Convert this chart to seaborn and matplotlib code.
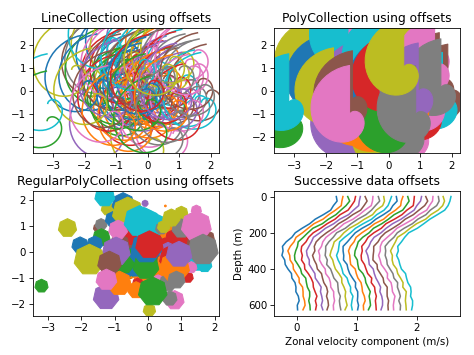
import numpy as np
import pandas as pd
import matplotlib
matplotlib.use('Agg')
import matplotlib.pyplot as plt
from matplotlib.path import Path
import seaborn as sns

# Offsets of the 100 markers (data units), shared by the first three panels
offset_x = [-0.50, 0.52, 0.30, -0.90, 0.60, -1.51, 1.45, -1.41, -1.21, 1.10,
            -1.05, -0.20, -1.40, 0.30, -0.90, 0.50, 0.80, 1.20, 0.85, 0.20,
            -0.30, 0.60, -0.60, -0.31, -0.09, 1.00, -0.76, -0.20, -0.50, 0.20,
            -0.75, 0.40, -0.30, 0.50, 1.20, -0.50, 1.30, 1.40, -0.61, -0.10,
            -0.40, 0.30, -0.80, 0.90, -1.26, 0.00, 0.30, 0.60, 0.04, -0.30,
            0.20, -0.50, 0.70, -1.00, 0.10, 1.87, 1.20, 0.40, 1.00, 1.70,
            -1.60, -0.36, -0.70, -0.61, 0.60, -0.85, -0.90, 1.00, -2.42, 1.50,
            -2.04, 0.50, -3.20, 1.20, 1.10, -0.10, 1.30, 0.65, 0.70, -1.30,
            -0.20, -0.86, -0.06, 0.75, -0.96, 1.60, 1.45, 1.65, -1.76, -0.26,
            -0.05, 0.80, 0.14, 0.04, 0.93, -1.16, -1.25, 0.85, 0.47, -3.18]
offset_y = [0.30, 1.77, 0.60, 0.40, 0.20, 0.92, 1.60, 1.05, 1.66, 0.50,
            1.25, -0.90, 0.55, -0.20, 0.10, 0.50, -1.87, 0.30, 1.05, 0.90,
            -0.30, 0.70, -0.80, -1.22, 1.87, -0.30, 0.86, 0.40, -0.20, 1.10,
            1.85, -0.50, 0.00, 0.00, -0.10, 0.60, 0.90, 0.00, 1.51, 1.10,
            -0.40, -0.90, -0.30, 0.40, -1.74, -0.30, -1.30, -1.20, -2.26, 0.80,
            0.30, -1.00, -0.30, -0.60, -0.60, -0.15, 1.20, 0.90, 1.50, -0.51,
            0.30, -1.48, -0.50, 0.60, 0.00, 0.30, 0.85, 0.90, 0.92, -0.40,
            0.25, -0.40, -1.32, -0.99, -0.50, 0.50, -0.60, -1.80, 1.31, 2.13,
            -0.10, -1.22, -0.57, -0.25, 0.01, 0.35, 0.99, 0.08, -0.31, 1.18,
            0.15, -0.60, -1.54, 0.27, -0.10, -0.44, -1.08, -1.09, 0.97, -0.57]

# Heptagon areas, cycled over the offsets
hept_size = [0, 1.3, 5.1, 11.3, 19.6, 29.9, 41.8, 54.7, 68.4, 82.3,
             95.9, 108.6, 119.9, 129.4, 136.5, 140.7, 141.8, 139.4, 133.4, 123.1,
             109.1, 91.1, 69.3, 44.0, 15.4, 16.0, 49.7, 85.1, 121.5, 158.2,
             194.4, 229.7, 262.4, 292.4, 319.0, 341.2, 358.3, 369.8, 375.1, 373.9,
             365.8, 350.6, 328.4, 299.2, 263.2, 220.8, 172.6, 119.2, 61.4, 0]

# Velocity profile: depth (m) and zonal velocity (m/s) of the first curve
depth = [0, 25, 50, 75, 100, 125, 150, 175, 200, 225, 250, 275, 300,
         325, 350, 375, 400, 425, 450, 475, 500, 525, 550, 575, 600, 625]
velocity = [0.663, 0.666, 0.625, 0.549, 0.447, 0.331, 0.210, 0.093, -0.011,
            -0.098, -0.162, -0.204, -0.224, -0.223, -0.207, -0.178, -0.142,
            -0.104, -0.067, -0.035, -0.009, 0.009, 0.020, 0.024, 0.023, 0.018]
step = 0.1  # m/s between successive profiles
# wiggles of each profile, in cm/s
jitter = [
    [0, 1, -1, 2, 0, -2, 1, 0, -1, 2, -1, -3, 0, -2, 1, -1, 0, 2, -1, 1, 0, -2, 1, 2, -1, 0],
    [1, -1, 2, 0, -1, 1, -2, 0, 1, -1, 2, 0, -2, 1, 0, 2, -1, 0, 1, -2, 1, 0, -1, 1, 2, -1],
    [-1, 2, 0, -1, 1, 0, 2, -2, 0, 1, -1, 2, 1, -1, -2, 0, 1, -1, 2, 0, -1, 1, 0, -2, 0, 1],
    [2, 0, -1, 1, -2, 1, 0, 1, -1, 0, 2, -1, 0, 2, -1, 1, -2, 0, 1, 1, -1, 0, 2, -1, 1, 0],
    [0, -2, 1, 0, 2, -1, 1, -1, 0, -2, 1, 1, -1, 0, 2, -1, 0, 1, -2, 0, 2, -1, 0, 1, -1, 2],
    [-2, 1, 0, 2, -1, 0, -1, 2, 1, 0, -1, 0, 3, -1, 0, 1, -1, 2, 0, -1, 1, 1, -2, 0, 1, -1],
    [1, 0, 2, -1, 0, 1, -2, 1, 0, -1, 0, 2, -1, 1, -1, 0, 2, -1, 1, 0, -2, 1, 0, 1, -1, 0],
    [0, 2, -1, 0, 1, -1, 0, 2, -2, 1, 0, -1, 1, 0, 2, -2, 1, 0, -1, 2, 0, -1, 1, -1, 0, 2],
    [-1, 0, 1, -2, 2, 0, 1, -1, 0, 2, -1, 1, 0, -2, 1, 0, -1, 1, 2, -1, 0, 1, -1, 0, 2, -1],
    [2, -1, 0, 1, -1, 2, 0, -1, 1, 0, -2, 1, 2, -1, 0, 1, 0, -2, 1, 0, 1, -1, 2, 0, -1, 1],
    [0, 1, -2, 1, 0, -1, 2, 0, -1, 1, 1, -2, 0, 1, -1, 2, 0, -1, 0, 2, -1, 1, 0, -1, 1, 0],
    [1, -2, 1, 0, -1, 2, -1, 1, 0, -1, 2, 0, -1, 1, 0, -2, 2, 0, -1, 1, 0, -1, 1, 2, -1, 0],
    [-1, 1, 0, 2, -2, 0, 1, -1, 2, 0, -1, 1, 0, -1, 2, 0, -2, 1, 1, -1, 0, 2, -1, 0, 1, -2],
    [0, -1, 2, -1, 1, 0, -2, 2, 0, -1, 1, -1, 2, 0, -1, 1, 0, -1, 2, -2, 1, 0, 1, -1, 0, 1],
    [2, 0, -2, 1, 0, 1, -1, 0, 2, -1, 0, 1, -2, 1, 1, -1, 2, 0, -1, 0, 1, -2, 0, 1, 1, -1],
    [-1, 2, 1, -1, 0, -2, 1, 1, -1, 0, 2, -1, 1, 0, -2, 2, -1, 0, 1, -1, 2, 0, -1, 1, 0, 1],
    [1, 0, -1, 2, -1, 1, 0, -2, 1, 1, -1, 0, 2, -1, 0, -1, 1, 2, -2, 1, 0, -1, 2, 0, -1, 0],
    [0, 1, 1, -2, 1, -1, 2, 0, -1, 2, 0, -2, 1, 0, 1, -1, 0, 1, -1, 2, -1, 0, 1, -2, 1, 1],
    [-2, 0, 1, 1, -1, 2, -1, 0, 1, -2, 1, 1, -1, 2, 0, -1, 1, -1, 0, 1, -2, 2, 0, -1, 0, 1],
    [1, -1, 0, 2, 0, -1, 1, 2, -2, 0, 1, -1, 2, -1, 1, 0, -1, 2, 0, -1, 1, 0, -2, 1, 1, 0],
]

colors = sns.color_palette('tab10')
npts = len(offset_x)

# Spiral marker: one turn, radius 49 pt, starting at the centre
r = np.arange(50)
theta = np.linspace(0, 2 * np.pi, 50)
spiral = np.column_stack([r * np.sin(theta), r * np.cos(theta)])
line_marker = Path(spiral)
fill_marker = Path(np.vstack([spiral, [0, 0]]))
spiral_area = (2 * 49) ** 2

pts = pd.DataFrame({'x': offset_x, 'y': offset_y,
                    'id': [f'p{i}' for i in range(npts)]})
pal = [colors[i % 10] for i in range(npts)]

fig, ((ax1, ax2), (ax3, ax4)) = plt.subplots(2, 2, figsize=(474 / 74, 355 / 74), dpi=74)
fig.subplots_adjust(top=0.92, left=0.07, right=0.97, hspace=0.3, wspace=0.3)

# 1. outlined spirals
sns.scatterplot(data=pts, x='x', y='y', hue='id', palette=pal, marker=line_marker,
                s=spiral_area, linewidth=1.5, legend=False, ax=ax1)
col = ax1.collections[0]
col.set_edgecolors(col.get_facecolors())
col.set_facecolors('none')
ax1.set_xlim(-3.64, 2.25)
ax1.set_ylim(-2.72, 2.73)
ax1.set_title('LineCollection using offsets')

# 2. filled spirals
sns.scatterplot(data=pts, x='x', y='y', hue='id', palette=pal, marker=fill_marker,
                s=spiral_area, linewidth=1.0, legend=False, ax=ax2)
col = ax2.collections[0]
col.set_edgecolors(col.get_facecolors())
ax2.set_xlim(-3.64, 2.25)
ax2.set_ylim(-2.72, 2.73)
ax2.set_title('PolyCollection using offsets')

# 3. heptagons
sizes = np.tile(hept_size, 2)[:npts] * 2.456
sns.scatterplot(data=pts, x='x', y='y', hue='id', palette=pal, marker=(7, 0, 0),
                s=sizes, linewidth=1.0, legend=False, ax=ax3)
col = ax3.collections[0]
col.set_edgecolors(col.get_facecolors())
ax3.set_xlim(-3.45, 2.12)
ax3.set_ylim(-2.48, 2.35)
ax3.set_title('RegularPolyCollection using offsets')

for ax in (ax1, ax2, ax3):
    ax.set_xlabel('')
    ax.set_ylabel('')
    ax.set_xticks([-3, -2, -1, 0, 1, 2])
    ax.set_yticks([-2, -1, 0, 1, 2])

# 4. staggered velocity profiles
rows = []
for i, jit in enumerate(jitter):
    for d, v, j in zip(depth, velocity, jit):
        rows.append({'curve': f'c{i:02d}', 'depth': d, 'speed': v + j / 100 + step * i})
prof = pd.DataFrame(rows)
sns.lineplot(data=prof, x='speed', y='depth', hue='curve',
             palette=[colors[i % 10] for i in range(len(jitter))],
             sort=False, estimator=None, orient='y', lw=1.5, legend=False, ax=ax4)
ax4.set_xlim(-0.37, 2.72)
ax4.set_ylim(659, -31)
ax4.set_xticks([0, 1, 2])
ax4.set_yticks([0, 200, 400, 600])
ax4.set_title('Successive data offsets')
ax4.set_xlabel('Zonal velocity component (m/s)')
ax4.set_ylabel('Depth (m)')

plt.savefig('out.png', dpi=74)
